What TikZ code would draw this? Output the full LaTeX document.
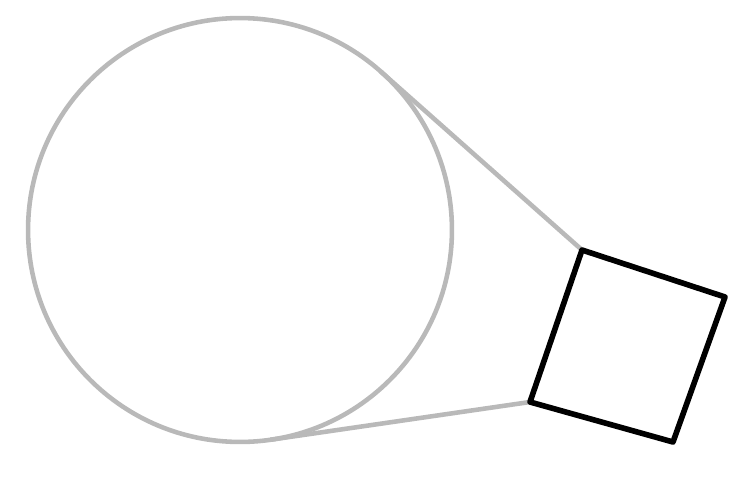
\documentclass[tikz,border=0pt]{standalone}
\usetikzlibrary{calc}
\definecolor{ringgray}{RGB}{185,185,185}
\begin{document}
\begin{tikzpicture}[x=0.02cm, y=-0.02cm,
    ring/.style={circle, draw=ringgray, line width=2.6pt, minimum size=8.48cm, inner sep=0pt, outer sep=0pt},
    tie/.style={draw=ringgray, line width=2.6pt},
    frame/.style={draw=black, line width=3.2pt, line join=round}]
    \useasboundingbox (0, 0) rectangle (750, 500);

    \node[ring] (bulb) at (240, 230) {};

    \coordinate (sqA) at (582, 250);
    \coordinate (sqB) at (725, 297);
    \coordinate (sqC) at (673, 442);
    \coordinate (sqD) at (530, 402);

    \draw[tie] (sqA) -- (tangent cs:node=bulb, point={(sqA)}, solution=1);
    \draw[tie] (sqD) -- (tangent cs:node=bulb, point={(sqD)}, solution=2);

    \draw[frame] (sqA) -- (sqB) -- (sqC) -- (sqD) -- cycle;
\end{tikzpicture}
\end{document}
